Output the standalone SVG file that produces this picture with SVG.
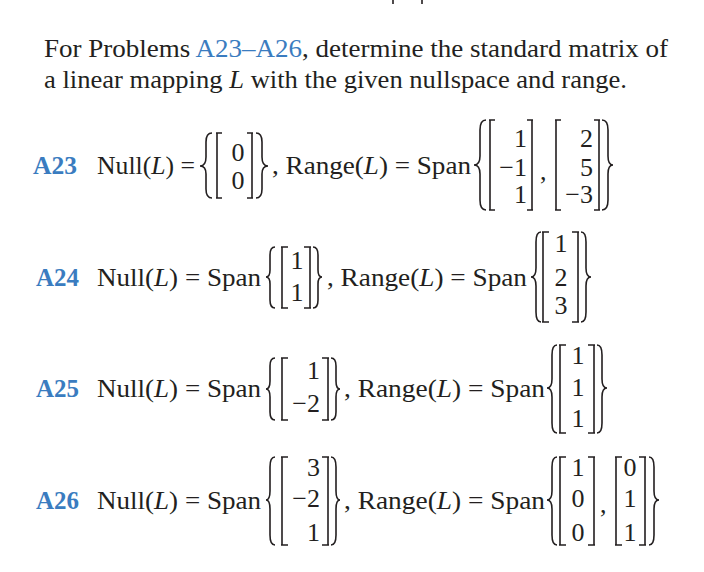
<svg xmlns="http://www.w3.org/2000/svg" width="704" height="572" viewBox="0 0 704 572">
<style>
text{font-family:"Liberation Serif","Times New Roman",serif;fill:#231f20;font-size:26px}
.lbl{fill:#3a7cc0;font-weight:bold}
.e{font-size:26px;text-anchor:end}
.c{font-size:26px;text-anchor:middle}
.d{fill:none;stroke:#231f20;stroke-width:1.6}
</style>
<rect width="704" height="572" fill="#fff"/>
<path class="d" d="M393 0V4M422 0V4"/>
<g id="header">
<text x="44" y="57" textLength="624" lengthAdjust="spacingAndGlyphs">For Problems <tspan fill="#3a7cc0">A23–A26</tspan>, determine the standard matrix of</text>
<text x="44" y="88" textLength="583" lengthAdjust="spacingAndGlyphs">a linear mapping <tspan font-style="italic">L</tspan> with the given nullspace and range.</text>
</g>
<g id="a23">
<text class="lbl" x="33" y="174" textLength="44" lengthAdjust="spacingAndGlyphs">A23</text>
<text x="97" y="174" textLength="98" lengthAdjust="spacingAndGlyphs">Null(<tspan font-style="italic">L</tspan>) =</text>
<path class="d" d="M212 133Q206 133 206 142V157Q206 166 200 166Q206 166 206 174V189Q206 198 212 198M216 133H222M217 133V198M216 198H222M247 133H253M252 133V198M247 198H253M256 133Q262 133 262 142V157Q262 166 268 166Q262 166 262 174V189Q262 198 256 198"/>
<text class="c" x="238" y="161">0</text><text class="c" x="238" y="189">0</text>
<text x="272" y="174" textLength="199" lengthAdjust="spacingAndGlyphs">, Range(<tspan font-style="italic">L</tspan>) = Span</text>
<path class="d" d="M486 120Q480 120 480 130V156Q480 165 474 165Q480 165 480 174V200Q480 210 486 210M489 120H495M490 120V210M489 210H495M527 120H533M532 120V210M527 210H533M555 120H561M556 120V210M555 210H561M594 120H600M599 120V210M594 210H600M602 120Q608 120 608 130V156Q608 165 613 165Q608 165 608 174V200Q608 210 602 210"/>
<text class="e" x="527" y="147">1</text><text class="e" x="527" y="176">−1</text><text class="e" x="527" y="203">1</text>
<text x="540" y="180">,</text>
<text class="e" x="593" y="147">2</text><text class="e" x="593" y="176">5</text><text class="e" x="593" y="203">−3</text>
</g>
<g id="a24">
<text class="lbl" x="36" y="286" textLength="43" lengthAdjust="spacingAndGlyphs">A24</text>
<text x="97" y="286" textLength="164" lengthAdjust="spacingAndGlyphs">Null(<tspan font-style="italic">L</tspan>) = Span</text>
<path class="d" d="M275 247Q270 247 270 255V270Q270 277 266 277Q270 277 270 284V300Q270 308 275 308M281 247H288M282 247V308M281 308H288M304 247H311M310 247V308M304 308H311M313 247Q318 247 318 255V270Q318 277 322 277Q318 277 318 284V300Q318 308 313 308"/>
<text class="c" x="297" y="269">1</text><text class="c" x="297" y="301">1</text>
<text x="327" y="286" textLength="200" lengthAdjust="spacingAndGlyphs">, Range(<tspan font-style="italic">L</tspan>) = Span</text>
<path class="d" d="M541 232Q536 232 536 242V268Q536 277 531 277Q536 277 536 286V312Q536 322 541 322M542 232H549M543 232V322M542 322H549M572 232H579M578 232V322M572 322H579M581 232Q586 232 586 242V268Q586 277 591 277Q586 277 586 286V312Q586 322 581 322"/>
<text class="c" x="561" y="252">1</text><text class="c" x="561" y="286">2</text><text class="c" x="561" y="314">3</text>
</g>
<g id="a25">
<text class="lbl" x="36" y="397" textLength="43" lengthAdjust="spacingAndGlyphs">A25</text>
<text x="97" y="397" textLength="164" lengthAdjust="spacingAndGlyphs">Null(<tspan font-style="italic">L</tspan>) = Span</text>
<path class="d" d="M275 358Q270 358 270 366V381Q270 389 266 389Q270 389 270 397V412Q270 420 275 420M281 358H288M282 358V420M281 420H288M322 358H329M328 358V420M322 420H329M331 358Q336 358 336 366V381Q336 389 340 389Q336 389 336 397V412Q336 420 331 420"/>
<text class="e" x="320" y="379">1</text><text class="e" x="320" y="412">−2</text>
<text x="344" y="397" textLength="201" lengthAdjust="spacingAndGlyphs">, Range(<tspan font-style="italic">L</tspan>) = Span</text>
<path class="d" d="M557 345Q552 345 552 355V379Q552 388 547 388Q552 388 552 397V423Q552 433 557 433M559 345H566M560 345V433M559 433H566M588 345H595M594 345V433M588 433H595M597 345Q602 345 602 355V379Q602 388 607 388Q602 388 602 397V423Q602 433 597 433"/>
<text class="c" x="578" y="364">1</text><text class="c" x="578" y="396">1</text><text class="c" x="578" y="427">1</text>
</g>
<g id="a26">
<text class="lbl" x="36" y="509" textLength="43" lengthAdjust="spacingAndGlyphs">A26</text>
<text x="97" y="509" textLength="164" lengthAdjust="spacingAndGlyphs">Null(<tspan font-style="italic">L</tspan>) = Span</text>
<path class="d" d="M275 457Q270 457 270 467V491Q270 500 266 500Q270 500 270 509V535Q270 545 275 545M281 457H288M282 457V545M281 545H288M322 457H329M328 457V545M322 545H329M331 457Q336 457 336 467V491Q336 500 340 500Q336 500 336 509V535Q336 545 331 545"/>
<text class="e" x="320" y="476">3</text><text class="e" x="320" y="507">−2</text><text class="e" x="320" y="541">1</text>
<text x="344" y="509" textLength="201" lengthAdjust="spacingAndGlyphs">, Range(<tspan font-style="italic">L</tspan>) = Span</text>
<path class="d" d="M557 457Q552 457 552 467V491Q552 500 547 500Q552 500 552 509V535Q552 545 557 545M559 457H566M560 457V545M559 545H566M588 457H595M594 457V545M588 545H595M615 457H622M616 457V545M615 545H622M639 457H646M645 457V545M639 545H646M649 457Q654 457 654 467V491Q654 500 659 500Q654 500 654 509V535Q654 545 649 545"/>
<text class="c" x="578" y="476">1</text><text class="c" x="578" y="507">0</text><text class="c" x="578" y="541">0</text>
<text x="600" y="513">,</text>
<text class="c" x="630" y="476">0</text><text class="c" x="630" y="507">1</text><text class="c" x="630" y="541">1</text>
</g>
</svg>
